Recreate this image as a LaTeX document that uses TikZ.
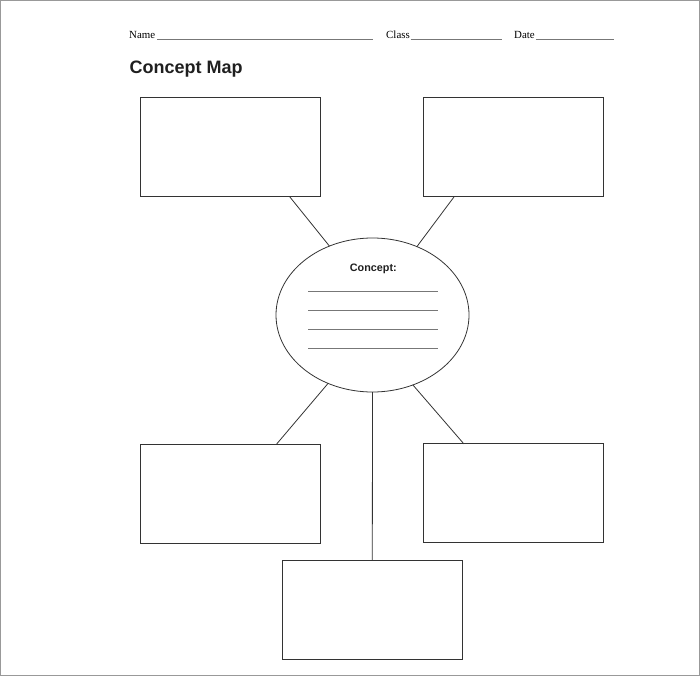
\documentclass[tikz,border=0pt]{standalone}
\usepackage{fontspec}
\setmainfont{Liberation Serif}
\newfontfamily\hsans{Liberation Sans}
\usetikzlibrary{shapes.geometric}
\definecolor{ink}{HTML}{333333}
\definecolor{rule}{HTML}{777777}
\tikzset{
  x=1pt, y=-1pt,
  boxnode/.style={draw=ink, line width=0.9pt, minimum width=180pt, minimum height=99pt, inner sep=0pt, outer sep=0pt},
  ellnode/.style={ellipse, draw=ink, line width=0.8pt, minimum width=193pt, minimum height=154pt, inner sep=0pt, outer sep=0pt},
  link/.style={draw=ink, line width=0.8pt},
  hdr/.style={anchor=base west, inner sep=0pt, text=black, font=\fontsize{10.9}{12}\selectfont},
  blank/.style={draw=rule, line width=0.6pt},
  wline/.style={draw=rule, line width=0.7pt}
}
\begin{document}
\begin{tikzpicture}
\useasboundingbox (0,0) rectangle (700,676);
\draw[draw=gray!80, line width=1.2pt] (0.6,0.6) rectangle (699.4,675.4);
% header
\node[hdr] (nm) at (129,38.5) {Name};
\draw[blank] (157,39) -- (372.5,39);
\node[hdr] (cl) at (386,38.5) {Class};
\draw[blank] (410.5,39) -- (501.5,39);
\node[hdr] (dt) at (514,38.5) {Date};
\draw[blank] (536,39) -- (613.5,39);
\node[anchor=base west, inner sep=0pt, text=black!88, font=\hsans\bfseries\fontsize{18}{20}\selectfont] (title) at (129.5,73.3) {Concept Map};
% boxes
\node[boxnode] (tl) at (230.5,147) {};
\node[boxnode] (tr) at (513.3,147) {};
\node[boxnode] (bl) at (230.5,493.5) {};
\node[boxnode] (br) at (513.3,493.3) {};
\node[boxnode] (bc) at (372.3,609.5) {};
% ellipse
\node[ellnode] (ell) at (372.5,315) {};
\node[anchor=base, inner sep=0pt, text=black!88, font=\hsans\bfseries\fontsize{10.8}{12}\selectfont] (cpt) at (373.3,271.7) {Concept:};
\foreach \yy in {291.7,310.7,329.7,348.7}{
  \draw[wline] (308.3,\yy) -- (438.3,\yy);
}
% connectors
\draw[link] (tl.-40) -- (ell.122);
\draw[link] (tr.220.5) -- (ell.57);
\draw[link] (ell.237.5) -- (bl.47);
\draw[link] (ell.300) -- (br.135);
\draw[link] (ell.south) -- (bc.north);
\end{tikzpicture}
\end{document}
